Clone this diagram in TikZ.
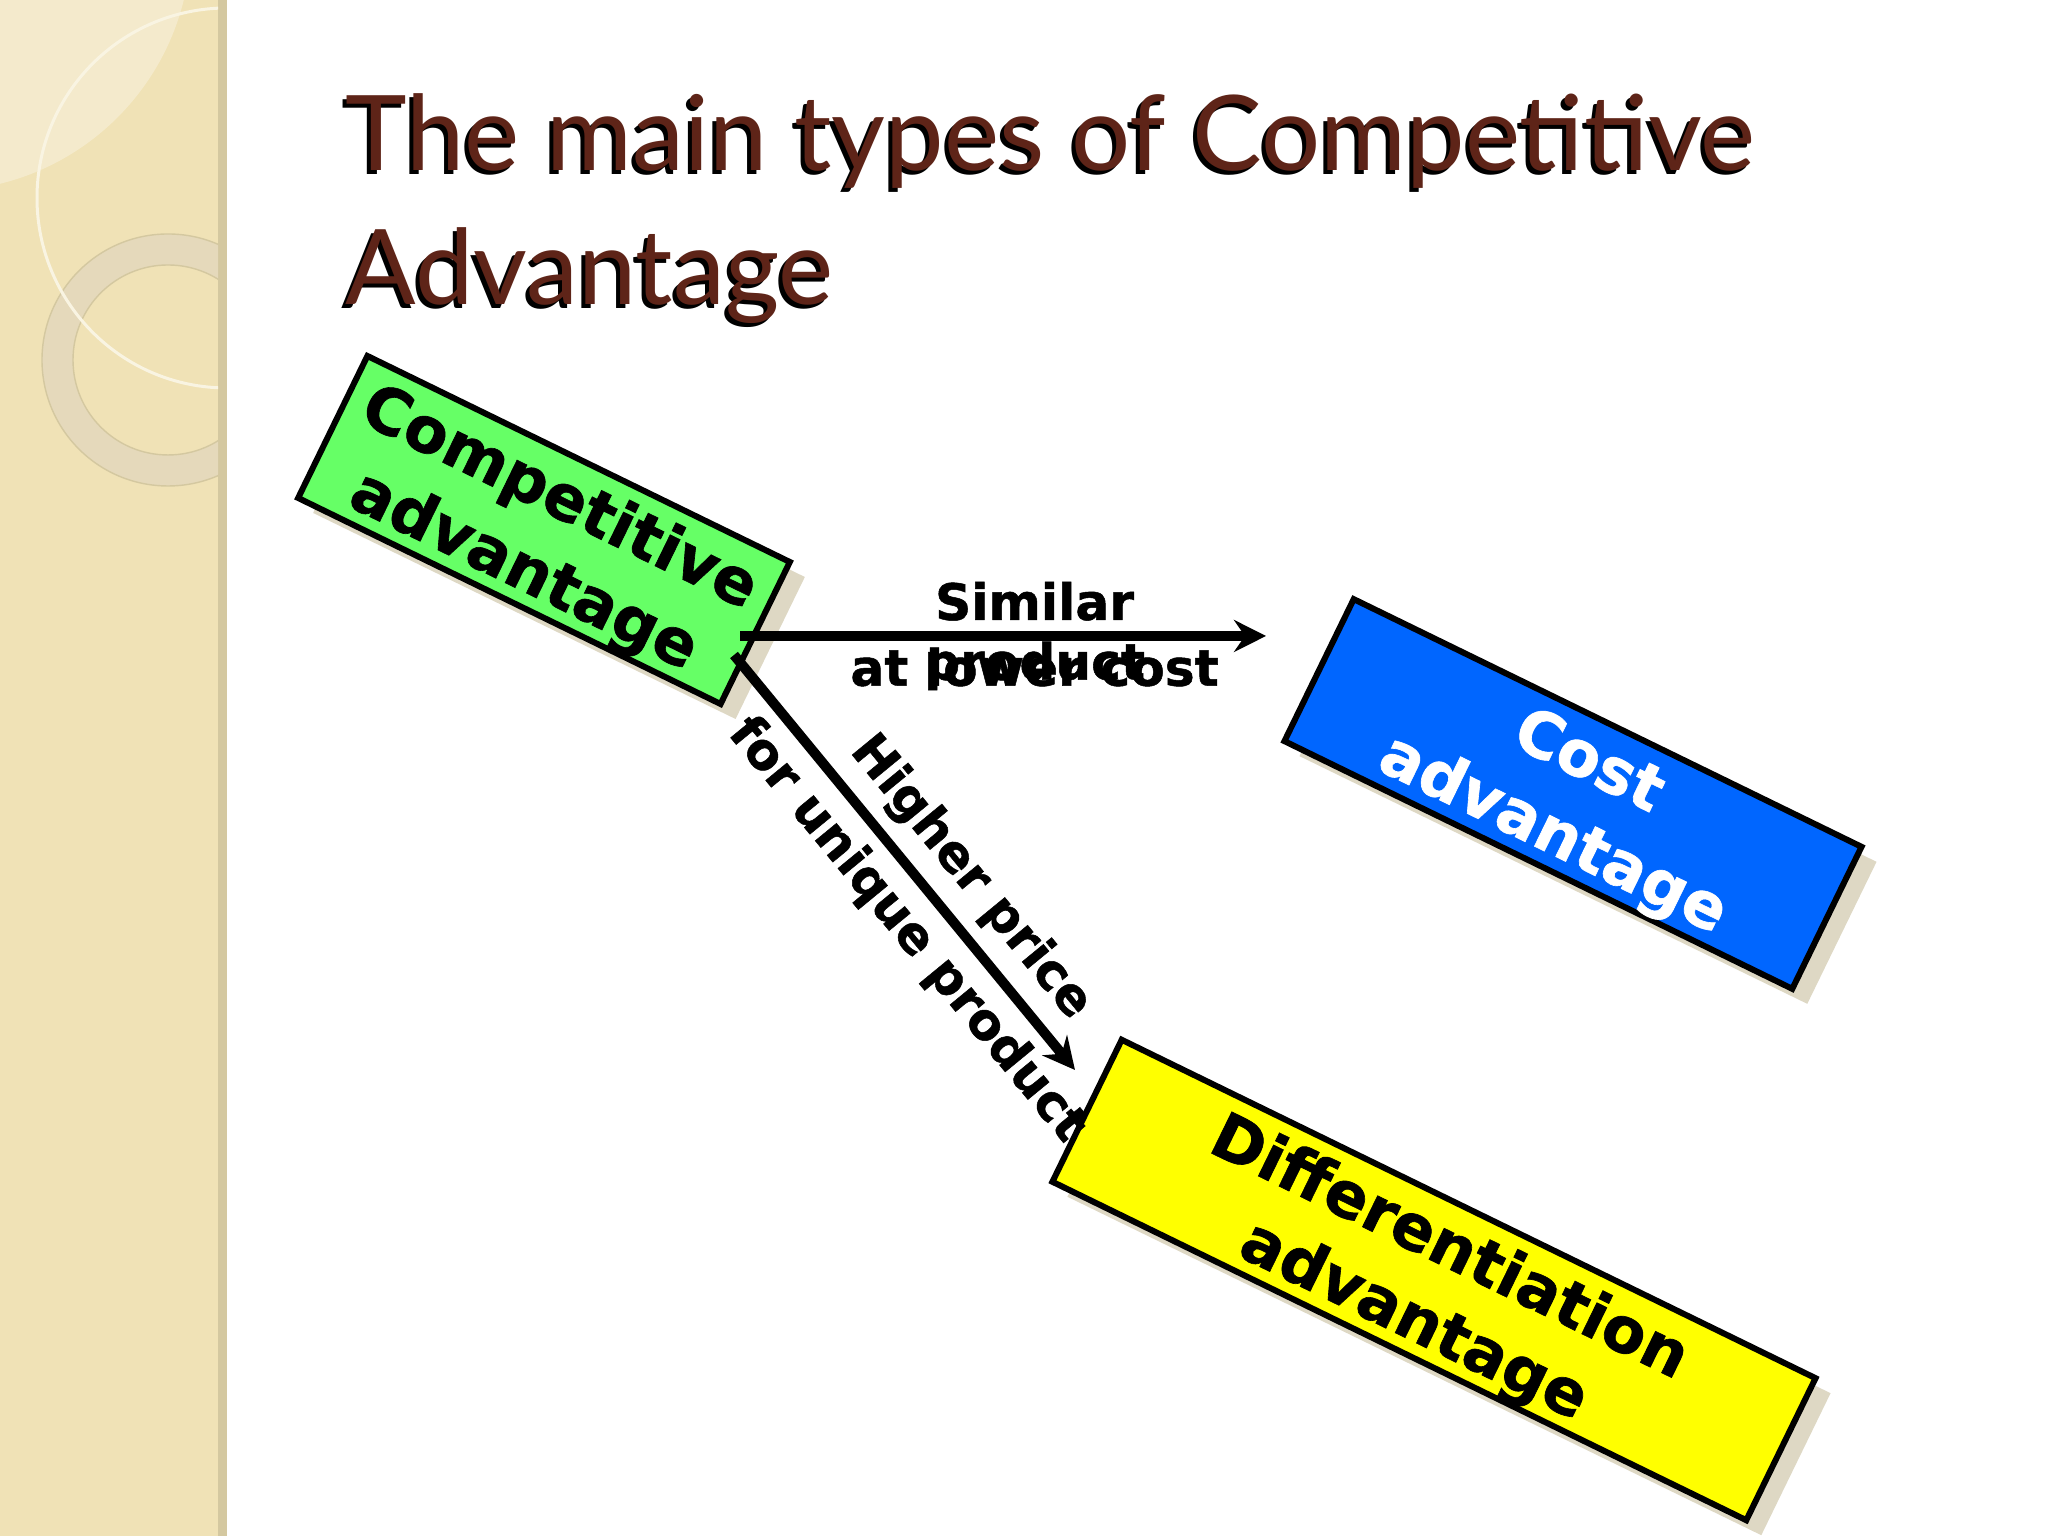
\documentclass[tikz,border=0pt]{standalone}
\usepackage{fontspec}
\usetikzlibrary{arrows.meta,shadows}

\newfontfamily\titlefont{Lato}
\newfontfamily\boxfont{DejaVu Sans Bold}[FakeBold=1]

\definecolor{stripbeige}{RGB}{240,226,182}
\definecolor{stripedge}{RGB}{212,200,160}
\definecolor{ringtan}{RGB}{228,217,188}
\definecolor{titlebrown}{RGB}{94,36,24}
\definecolor{shadowtan}{RGB}{222,216,196}
\definecolor{compgreen}{RGB}{102,255,102}
\definecolor{costblue}{RGB}{0,102,255}
\definecolor{diffyellow}{RGB}{255,255,0}

\tikzset{
  advbox/.style={draw=black, line width=0.06cm, rotate=-26, inner sep=0pt,
    minimum height=1.58cm, align=center, text depth=0pt,
    font=\boxfont\fontsize{18}{23}\selectfont,
    drop shadow={shadow xshift=0.15cm, shadow yshift=-0.15cm,
      fill=shadowtan, opacity=1}},
  flow/.style={line width=0.1cm, -{Stealth[length=3.2mm, width=3.2mm, inset=1.1mm]}},
  flowlabel/.style={font=\boxfont\fontsize{14.3}{17}\selectfont,
    align=center, inner sep=0pt},
  titletext/.style={anchor=base west, align=left, inner sep=0pt,
    font=\titlefont\fontsize{29.7}{38.4}\selectfont}
}

\begin{document}
\begin{tikzpicture}

  \useasboundingbox (0,0) rectangle (20.48,15.36);
  \fill[white] (0,0) rectangle (20.48,15.36);

  % --- Side strip ---
  \fill[stripbeige] (0,0) rectangle (2.27,15.36);
  \fill[stripedge] (2.18,0) rectangle (2.27,15.36);
  \begin{scope}
    \clip (0,0) rectangle (2.18,15.36);
    \fill[white, opacity=0.3] (-0.60,15.96) circle (2.51);
    \fill[ringtan, even odd rule, opacity=0.9] (1.68,11.76) circle (1.26) (1.68,11.76) circle (0.95);
    \draw[stripedge, thin] (1.68,11.76) circle (1.26) (1.68,11.76) circle (0.95);
    \draw[white!60!stripbeige, line width=0.03cm] (2.27,13.38) circle (1.90);
  \end{scope}

  % --- Title (base anchor sits on the last line) ---
  \node[titletext, text=black] (titleshadow) at (3.41,12.27) {The main types of Competitive\\Advantage};
  \node[titletext, text=titlebrown] (title) at (3.45,12.31) {The main types of Competitive\\Advantage};

  % --- Boxes ---
  \node[advbox, fill=compgreen, minimum width=4.70cm] (comp) at (5.44,10.06) {Competitive\\advantage};
  \node[advbox, fill=costblue, text=white, minimum width=5.65cm] (cost) at (15.73,7.42) {Cost\\advantage};
  \node[advbox, fill=diffyellow, minimum width=7.72cm] (diff) at (14.34,2.56) {Differentiation\\advantage};

  % --- Arrows ---
  \coordinate (hs) at (7.40,9.00);
  \coordinate (he) at (12.66,9.00);
  \coordinate (ds) at (7.34,8.81);
  \coordinate (de) at (10.75,4.66);

  \draw[flow] (hs) -- (he)
    node[flowlabel, pos=0.56] (simlab) {Similar\\product}
    node[flowlabel, pos=0.56, yshift=-0.31cm] (lowlab) {at lower cost};
  \draw[flow] (ds) -- (de)
    node[flowlabel, pos=0.6, sloped, above=0.12cm] (higlab) {Higher price}
    node[flowlabel, pos=0.6, sloped, below=0.12cm] (unilab) {for unique product};

\end{tikzpicture}
\end{document}
